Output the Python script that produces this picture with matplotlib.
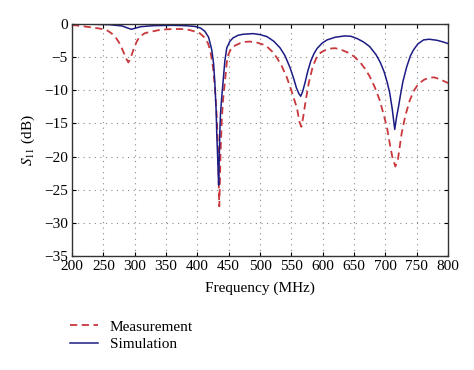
import matplotlib
matplotlib.use('Agg')
import matplotlib.pyplot as plt

# simulated S11 (MHz, dB)
sim_f = [200, 230, 260, 280, 290, 295, 300, 310, 330, 360, 380, 395, 405, 412, 418,
         423, 426, 428, 430, 431, 433, 434, 435, 436, 437, 439, 441, 444, 447, 452,
         457, 465, 473, 489, 500, 511, 522, 532, 540, 548, 554, 558, 562, 565, 568,
         572, 576, 581, 586, 591, 599, 607, 620, 635, 645, 655, 665, 675, 685, 692,
         698, 703, 707, 711, 715, 718, 721, 724, 728, 734, 740, 745, 752, 761, 770,
         782, 792, 800]
sim_db = [-0.02, -0.03, -0.1, -0.3, -0.65, -0.8, -0.65, -0.4, -0.25, -0.2, -0.25, -0.35,
          -0.6, -1.1, -2.0, -3.9, -6.0, -9.0, -13.0, -16.5, -21.5, -24.3, -20.0, -16.0,
          -13.5, -11.0, -8.8, -5.5, -3.6, -2.6, -2.1, -1.7, -1.55, -1.45, -1.6, -1.9,
          -2.6, -3.6, -4.8, -6.6, -8.3, -9.6, -10.5, -10.9, -10.2, -8.8, -7.2, -5.6,
          -4.5, -3.7, -2.9, -2.4, -2.0, -1.8, -1.85, -2.2, -2.7, -3.4, -4.6, -5.8, -7.2,
          -8.8, -10.4, -12.8, -15.9, -14.0, -12.5, -10.8, -8.7, -6.5, -4.8, -3.9, -3.0,
          -2.4, -2.3, -2.45, -2.7, -2.95]

# measured S11 (MHz, dB)
meas_f = [200, 215, 230, 245, 255, 263, 271, 277, 282, 287, 290, 294, 298, 303, 308,
          316, 324, 340, 351, 370, 383, 395, 404, 411, 417, 421, 425, 428, 431, 433,
          434, 435, 436, 437, 439, 441, 444, 447, 449, 453, 457, 468, 476, 484, 495,
          505, 511, 520, 527, 535, 543, 551, 559, 563, 566, 569, 573, 578, 584, 590,
          597, 605, 613, 620, 630, 640, 650, 660, 668, 675, 683, 691, 698, 703, 707,
          711, 716, 720, 723, 726, 732, 739, 746, 753, 762, 770, 778, 786, 793, 800]
meas_db = [-0.15, -0.3, -0.5, -0.7, -0.9, -1.4, -2.2, -3.1, -4.2, -5.3, -5.8, -5.0, -3.9,
           -2.7, -1.9, -1.4, -1.2, -0.9, -0.8, -0.75, -0.8, -1.1, -1.4, -2.0, -2.9, -4.2,
           -6.5, -9.5, -14.0, -19.0, -23.0, -27.5, -24.0, -19.5, -14.5, -11.5, -8.7,
           -5.8, -4.7, -3.9, -3.4, -2.9, -2.7, -2.65, -2.8, -3.1, -3.4, -4.2, -5.1, -6.4,
           -8.1, -10.3, -12.7, -14.8, -15.5, -14.0, -11.5, -8.8, -6.5, -5.1, -4.3, -3.9,
           -3.7, -3.65, -3.9, -4.3, -4.9, -5.8, -6.8, -7.9, -9.5, -11.5, -13.9, -15.8,
           -18.0, -20.0, -21.5, -20.5, -18.5, -16.5, -13.8, -11.5, -10.0, -9.0, -8.4,
           -8.1, -8.05, -8.3, -8.6, -8.9]

x_ticks = list(range(200, 801, 50))
y_ticks = list(range(-35, 1, 5))

plt.rcParams['font.family'] = ['Liberation Serif', 'DejaVu Serif']
plt.rcParams['mathtext.fontset'] = 'stix'

fig = plt.figure(figsize=(4.74, 3.70), dpi=100)
ax = fig.add_axes([72 / 474, 1 - 256 / 370, 376 / 474, 232 / 370])

ax.plot(meas_f, meas_db, color='#c8383c', lw=1.3, ls=(0, (4, 2.5)), label='Measurement')
ax.plot(sim_f, sim_db, color='#1c1c84', lw=1.1, label='Simulation')

ax.set_xlim(200, 800)
ax.set_ylim(-35, 0)
ax.set_xticks(x_ticks)
ax.set_yticks(y_ticks)
ax.tick_params(direction='in', top=True, right=True, labelsize=11, length=3, pad=3)
ax.grid(True, color='#888888', ls=(0, (1, 4)), lw=0.8)
for s in ax.spines.values():
    s.set_color('#333333')
    s.set_linewidth(1.0)

ax.set_xlabel('Frequency (MHz)', fontsize=11, labelpad=6)
ax.set_ylabel(r'$S_{11}$ (dB)', fontsize=11, labelpad=5)

fig.legend(loc='upper left', bbox_to_anchor=(70 / 474, 1 - 320 / 370), frameon=False,
           fontsize=11, handlelength=1.8, handletextpad=0.8, labelspacing=0.25,
           borderpad=0, borderaxespad=0)

fig.savefig('out.png', dpi=100)
